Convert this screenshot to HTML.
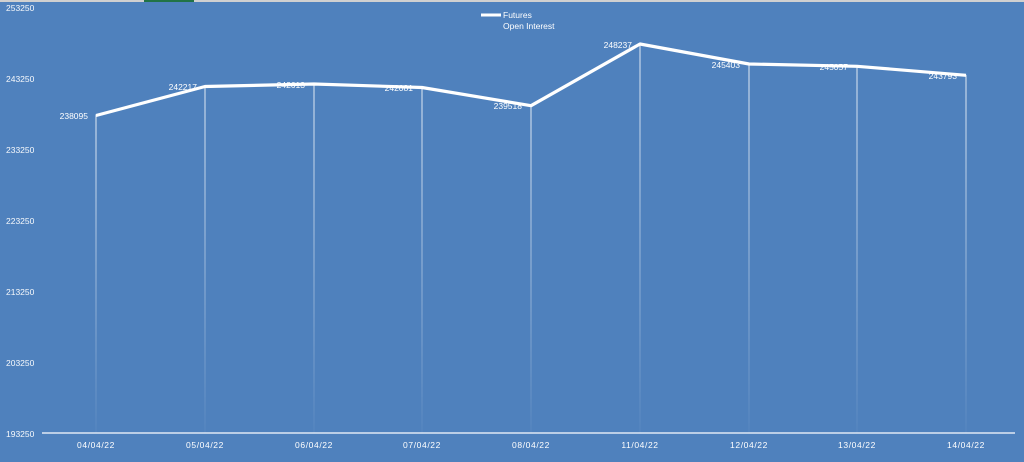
<!DOCTYPE html>
<html><head><meta charset="utf-8"><style>
html,body{margin:0;padding:0;background:#4f81bd;}
svg{display:block;font-family:"Liberation Sans",sans-serif;}
</style></head><body>
<svg width="1024" height="462" viewBox="0 0 1024 462" xmlns="http://www.w3.org/2000/svg">
<defs>
<linearGradient id="g" x1="0" y1="0" x2="0" y2="1">
<stop offset="0" stop-color="#fff" stop-opacity="0.85"/>
<stop offset="1" stop-color="#fff" stop-opacity="0.05"/>
</linearGradient>
</defs>
<rect width="1024" height="462" fill="#4f81bd"/>
<rect x="0" y="0" width="1024" height="2" fill="#d0d0d0"/>
<rect x="144" y="0" width="50" height="2" fill="#217346"/>
<g fill="#fff" font-size="8.5" opacity="0.95">
<text x="6" y="11">253250</text>
<text x="6" y="82">243250</text>
<text x="6" y="153">233250</text>
<text x="6" y="224">223250</text>
<text x="6" y="295">213250</text>
<text x="6" y="366">203250</text>
<text x="6" y="437">193250</text>
</g>
<line x1="42" y1="433" x2="1015" y2="433" stroke="#dfe8f3" stroke-width="1.5"/>
<g stroke="url(#g)" stroke-width="1">
<rect x="95.5" y="115" width="1" height="318" fill="url(#g)" stroke="none"/>
<rect x="204.5" y="86" width="1" height="347" fill="url(#g)" stroke="none"/>
<rect x="313.5" y="84" width="1" height="349" fill="url(#g)" stroke="none"/>
<rect x="421.5" y="87" width="1" height="346" fill="url(#g)" stroke="none"/>
<rect x="530.5" y="105" width="1" height="328" fill="url(#g)" stroke="none"/>
<rect x="639.5" y="44" width="1" height="389" fill="url(#g)" stroke="none"/>
<rect x="748.5" y="64" width="1" height="369" fill="url(#g)" stroke="none"/>
<rect x="856.5" y="66" width="1" height="367" fill="url(#g)" stroke="none"/>
<rect x="965.5" y="75" width="1" height="358" fill="url(#g)" stroke="none"/>
</g>
<polyline points="96,115.5 205,86.5 314,84 422,87.5 531,105.7 640,44 749,64 857,66.3 966,75.3" fill="none" stroke="#fff" stroke-width="3.2" stroke-linejoin="round"/>
<g fill="#fff" font-size="8.5" text-anchor="end">
<text x="88" y="119">238095</text>
<text x="197" y="90">242217</text>
<text x="305" y="88">242613</text>
<text x="413" y="91">242081</text>
<text x="522" y="109">239518</text>
<text x="632" y="48">248237</text>
<text x="740" y="68">245403</text>
<text x="848" y="70">245057</text>
<text x="957" y="79">243793</text>
</g>
<line x1="481" y1="15" x2="501" y2="15" stroke="#fff" stroke-width="3"/>
<text x="503" y="18" fill="#fff" font-size="8.5">Futures</text>
<text x="503" y="29" fill="#fff" font-size="8.5">Open Interest</text>
<g fill="#fff" font-size="8.5" text-anchor="middle" letter-spacing="0.6">
<text x="96" y="448">04/04/22</text>
<text x="205" y="448">05/04/22</text>
<text x="314" y="448">06/04/22</text>
<text x="422" y="448">07/04/22</text>
<text x="531" y="448">08/04/22</text>
<text x="640" y="448">11/04/22</text>
<text x="749" y="448">12/04/22</text>
<text x="857" y="448">13/04/22</text>
<text x="966" y="448">14/04/22</text>
</g>
</svg>
</body></html>
